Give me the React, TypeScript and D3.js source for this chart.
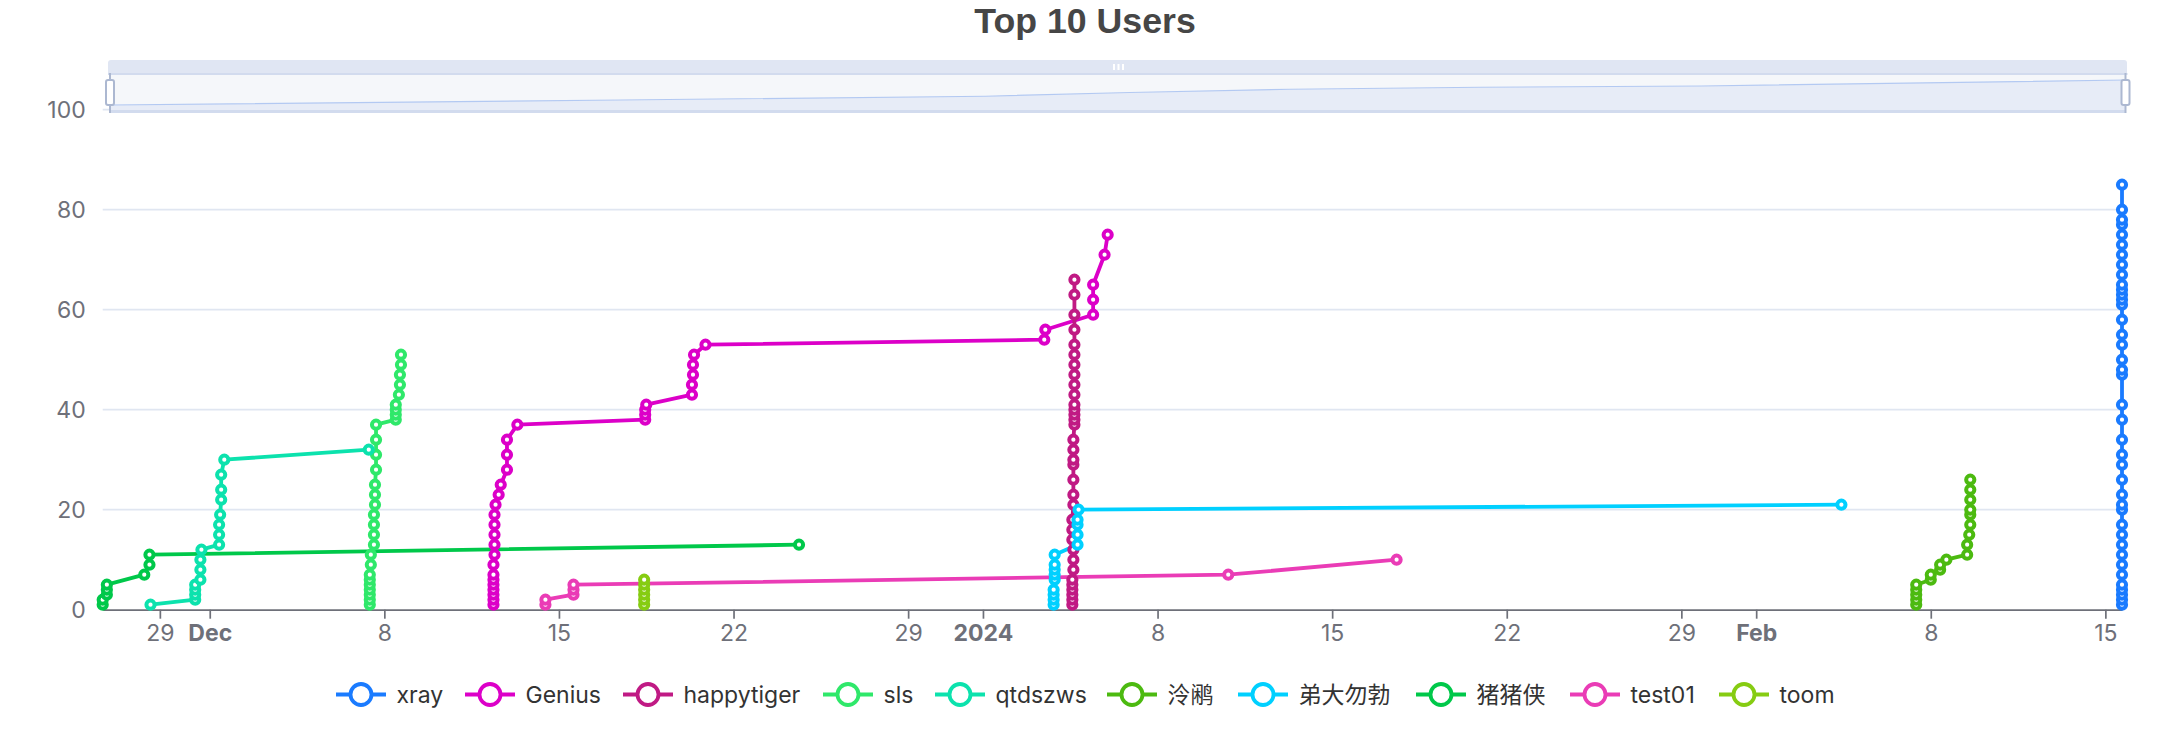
import React, { useEffect, useRef } from 'react';
import * as d3 from 'd3';

type Point = [string, number];

const xrayPoints: Point[] = [
    ['2024-02-15 16', 1], ['2024-02-15 16', 2], ['2024-02-15 16', 3], ['2024-02-15 16', 4], ['2024-02-15 16', 5],
    ['2024-02-15 16', 7], ['2024-02-15 16', 9], ['2024-02-15 16', 11], ['2024-02-15 16', 13], ['2024-02-15 16', 15],
    ['2024-02-15 16', 17], ['2024-02-15 16', 20], ['2024-02-15 16', 21], ['2024-02-15 16', 23], ['2024-02-15 16', 26],
    ['2024-02-15 16', 29], ['2024-02-15 16', 31], ['2024-02-15 16', 34], ['2024-02-15 16', 38], ['2024-02-15 16', 41],
    ['2024-02-15 16', 47], ['2024-02-15 16', 48], ['2024-02-15 16', 50], ['2024-02-15 16', 53], ['2024-02-15 16', 55],
    ['2024-02-15 16', 58], ['2024-02-15 16', 61], ['2024-02-15 16', 62], ['2024-02-15 16', 63], ['2024-02-15 16', 64],
    ['2024-02-15 16', 65], ['2024-02-15 16', 67], ['2024-02-15 16', 69], ['2024-02-15 16', 71], ['2024-02-15 16', 73],
    ['2024-02-15 16', 75], ['2024-02-15 16', 77], ['2024-02-15 16', 78], ['2024-02-15 16', 80], ['2024-02-15 16', 85],
];

const geniusPoints: Point[] = [
    ['2023-12-12 09', 1], ['2023-12-12 09', 2], ['2023-12-12 09', 3], ['2023-12-12 09', 4], ['2023-12-12 09', 5],
    ['2023-12-12 09', 6], ['2023-12-12 09', 7], ['2023-12-12 09', 9], ['2023-12-12 10', 11], ['2023-12-12 10', 13],
    ['2023-12-12 10', 15], ['2023-12-12 10', 17], ['2023-12-12 10', 19], ['2023-12-12 11', 21], ['2023-12-12 14', 23],
    ['2023-12-12 16', 25], ['2023-12-12 22', 28], ['2023-12-12 22', 31], ['2023-12-12 22', 34], ['2023-12-13 08', 37],
    ['2023-12-18 11', 38], ['2023-12-18 11', 39], ['2023-12-18 11', 40], ['2023-12-18 12', 41], ['2023-12-20 08', 43],
    ['2023-12-20 08', 45], ['2023-12-20 09', 47], ['2023-12-20 09', 49], ['2023-12-20 10', 51], ['2023-12-20 21', 53],
    ['2024-01-03 11', 54], ['2024-01-03 12', 56], ['2024-01-05 10', 59], ['2024-01-05 10', 62], ['2024-01-05 10', 65],
    ['2024-01-05 21', 71], ['2024-01-06 00', 75],
];

const happytigerPoints: Point[] = [
    ['2024-01-04 14', 1], ['2024-01-04 14', 2], ['2024-01-04 14', 3], ['2024-01-04 14', 4], ['2024-01-04 14', 5],
    ['2024-01-04 14', 6], ['2024-01-04 15', 8], ['2024-01-04 15', 10], ['2024-01-04 15', 12], ['2024-01-04 14', 14],
    ['2024-01-04 14', 16], ['2024-01-04 14', 18], ['2024-01-04 15', 21], ['2024-01-04 15', 23], ['2024-01-04 15', 26],
    ['2024-01-04 15', 29], ['2024-01-04 15', 30], ['2024-01-04 15', 32], ['2024-01-04 15', 34], ['2024-01-04 16', 37],
    ['2024-01-04 16', 38], ['2024-01-04 16', 39], ['2024-01-04 16', 40], ['2024-01-04 16', 41], ['2024-01-04 16', 43],
    ['2024-01-04 16', 45], ['2024-01-04 16', 47], ['2024-01-04 16', 49], ['2024-01-04 16', 51], ['2024-01-04 16', 53],
    ['2024-01-04 16', 56], ['2024-01-04 16', 59], ['2024-01-04 16', 63], ['2024-01-04 16', 66],
];

const slsPoints: Point[] = [
    ['2023-12-07 10', 1], ['2023-12-07 10', 2], ['2023-12-07 10', 3], ['2023-12-07 10', 4], ['2023-12-07 10', 5],
    ['2023-12-07 10', 6], ['2023-12-07 10', 7], ['2023-12-07 11', 9], ['2023-12-07 11', 11], ['2023-12-07 14', 13],
    ['2023-12-07 14', 15], ['2023-12-07 14', 17], ['2023-12-07 14', 19], ['2023-12-07 15', 21], ['2023-12-07 15', 23],
    ['2023-12-07 15', 25], ['2023-12-07 16', 28], ['2023-12-07 16', 31], ['2023-12-07 16', 34], ['2023-12-07 16', 37],
    ['2023-12-08 11', 38], ['2023-12-08 11', 39], ['2023-12-08 11', 40], ['2023-12-08 11', 41], ['2023-12-08 14', 43],
    ['2023-12-08 15', 45], ['2023-12-08 15', 47], ['2023-12-08 16', 49], ['2023-12-08 16', 51],
];

const qtdszwsPoints: Point[] = [
    ['2023-11-28 15', 1], ['2023-11-30 10', 2], ['2023-11-30 10', 3], ['2023-11-30 10', 4], ['2023-11-30 10', 5],
    ['2023-11-30 15', 6], ['2023-11-30 15', 8], ['2023-11-30 15', 10], ['2023-11-30 16', 12], ['2023-12-01 09', 13],
    ['2023-12-01 09', 15], ['2023-12-01 09', 17], ['2023-12-01 10', 19], ['2023-12-01 11', 22], ['2023-12-01 11', 24],
    ['2023-12-01 11', 27], ['2023-12-01 14', 30], ['2023-12-07 09', 32],
];

const lingjianPoints: Point[] = [
    ['2024-02-07 10', 1], ['2024-02-07 10', 2], ['2024-02-07 10', 3], ['2024-02-07 10', 4], ['2024-02-07 10', 5],
    ['2024-02-08 00', 6], ['2024-02-08 00', 7], ['2024-02-08 09', 8], ['2024-02-08 09', 9], ['2024-02-08 15', 10],
    ['2024-02-09 11', 11], ['2024-02-09 11', 13], ['2024-02-09 13', 15], ['2024-02-09 14', 17], ['2024-02-09 14', 19],
    ['2024-02-09 14', 20], ['2024-02-09 14', 22], ['2024-02-09 14', 24], ['2024-02-09 14', 26],
];

const didaPoints: Point[] = [
    ['2024-01-03 20', 1], ['2024-01-03 20', 2], ['2024-01-03 20', 3], ['2024-01-03 20', 4], ['2024-01-03 21', 6],
    ['2024-01-03 21', 7], ['2024-01-03 21', 8], ['2024-01-03 21', 9], ['2024-01-03 21', 11], ['2024-01-04 19', 13],
    ['2024-01-04 19', 15], ['2024-01-04 19', 17], ['2024-01-04 19', 18], ['2024-01-04 20', 20], ['2024-02-04 10', 21],
];

const zhuzhuxiaPoints: Point[] = [
    ['2023-11-26 17', 1], ['2023-11-26 17', 2], ['2023-11-26 21', 3], ['2023-11-26 21', 4], ['2023-11-26 21', 5],
    ['2023-11-28 09', 7], ['2023-11-28 14', 9], ['2023-11-28 14', 11], ['2023-12-24 15', 13],
];

const test01Points: Point[] = [
    ['2023-12-14 11', 1], ['2023-12-14 11', 2], ['2023-12-15 14', 3], ['2023-12-15 14', 4], ['2023-12-15 14', 5],
    ['2024-01-10 20', 7], ['2024-01-17 14', 10],
];

const toomPoints: Point[] = [
    ['2023-12-18 10', 1], ['2023-12-18 10', 2], ['2023-12-18 10', 3], ['2023-12-18 10', 4], ['2023-12-18 10', 5],
    ['2023-12-18 10', 6],
];

const seriesNames = ['xray', 'Genius', 'happytiger', 'sls', 'qtdszws', '泠鹇', '弟大勿勃', '猪猪侠', 'test01', 'toom'];
const seriesColors = ['#1a7bff', '#dc00c8', '#c01a84', '#2fe86a', '#0ce2ad', '#4cba10', '#00d0ff', '#00c84a', '#ea3cb6', '#86cc12'];
const seriesPoints = [xrayPoints, geniusPoints, happytigerPoints, slsPoints, qtdszwsPoints, lingjianPoints, didaPoints, zhuzhuxiaPoints, test01Points, toomPoints];

const yTicks = [0, 20, 40, 60, 80, 100];
const xTicks = ['2023-11-29 00', '2023-12-01 00', '2023-12-08 00', '2023-12-15 00', '2023-12-22 00', '2023-12-29 00', '2024-01-01 00', '2024-01-08 00', '2024-01-15 00', '2024-01-22 00', '2024-01-29 00', '2024-02-01 00', '2024-02-08 00', '2024-02-15 00'];
const xTickLabels = ['29', 'Dec', '8', '15', '22', '29', '2024', '8', '15', '22', '29', 'Feb', '8', '15'];
const boldTicks = ['Dec', '2024', 'Feb'];

// the slider's little overview line
const previewDates = ['2023-11-26 17', '2023-12-17 05', '2023-12-31 21', '2024-01-06 16', '2024-01-13 03', '2024-01-20 18', '2024-01-29 15', '2024-02-15 16'];
const previewValues = [0, 20, 35, 50, 63, 71, 76, 100];

const legendX = [336, 465, 623, 823, 935, 1107, 1238, 1416, 1570, 1719];

const FONT = "Inter, 'Noto Sans CJK SC', sans-serif";
const parseTime = d3.utcParse('%Y-%m-%d %H');

const App: React.FC = () => {
    const svgRef = useRef<SVGSVGElement | null>(null);

    useEffect(() => {
        if (!svgRef.current) return;

        const svg = d3.select(svgRef.current);
        svg.selectAll('*').remove();

        const left = 102.7;
        const right = 2122;
        const bottom = 609.7;
        const top = 109.7;

        const allDates = seriesPoints.flat().map((d) => parseTime(d[0]) as Date);
        const domain = d3.extent(allDates) as [Date, Date];

        const xScale = d3.scaleUtc().domain(domain).range([left, right]);
        const yScale = d3.scaleLinear().domain([0, 100]).range([bottom, top]);

        // Title
        svg.append('text')
            .attr('x', 1085)
            .attr('y', 32.5)
            .attr('text-anchor', 'middle')
            .attr('font-family', "'Liberation Sans', sans-serif")
            .attr('font-size', 35.7)
            .attr('font-weight', 700)
            .attr('fill', '#464646')
            .text('Top 10 Users');

        // Grid lines
        svg.append('g')
            .selectAll('line')
            .data(yTicks.filter((d) => d > 0))
            .enter()
            .append('line')
            .attr('x1', left)
            .attr('x2', right)
            .attr('y1', (d) => yScale(d))
            .attr('y2', (d) => yScale(d))
            .attr('stroke', '#e0e6f1')
            .attr('stroke-width', 1.7);

        // Axes
        const yAxis = d3.axisLeft(yScale).tickValues(yTicks).tickSize(0).tickPadding(17);
        const yGroup = svg.append('g').attr('transform', `translate(${left}, 0)`).call(yAxis);
        yGroup.select('.domain').remove();
        yGroup.selectAll('text')
            .attr('font-family', FONT)
            .attr('font-size', 23)
            .attr('fill', '#6e7079');

        const xAxis = d3
            .axisBottom(xScale)
            .tickValues(xTicks.map((d) => parseTime(d) as Date))
            .tickFormat((_, i) => xTickLabels[i])
            .tickSize(9)
            .tickSizeOuter(0)
            .tickPadding(6);
        const xGroup = svg.append('g').attr('transform', `translate(0, ${bottom})`).call(xAxis);
        xGroup.select('.domain').attr('stroke', '#6e7079').attr('stroke-width', 1.7);
        xGroup.selectAll('.tick line').attr('stroke', '#6e7079').attr('stroke-width', 1.7);
        xGroup.selectAll('text')
            .attr('font-family', FONT)
            .attr('font-size', 23)
            .attr('fill', '#6e7079')
            .attr('font-weight', (_, i) => (boldTicks.includes(xTickLabels[i]) ? 700 : 400));

        // Data zoom slider
        const sliderLeft = 110;
        const sliderRight = 2125.5;
        const sliderTop = 60;
        const bodyTop = 75;
        const bodyBottom = 110;
        const previewX = d3.scaleUtc().domain(domain).range([sliderLeft, sliderRight]);
        const previewY = d3.scaleLinear().domain([0, 100]).range([105, 80]);
        const previewData = previewDates.map((d, i) => ({ date: parseTime(d) as Date, value: previewValues[i] }));

        const slider = svg.append('g');
        slider.append('rect')
            .attr('x', sliderLeft).attr('y', bodyTop)
            .attr('width', sliderRight - sliderLeft).attr('height', bodyBottom - bodyTop)
            .attr('fill', '#f5f7fa');
        const previewArea = d3.area<{ date: Date; value: number }>()
            .x((d) => previewX(d.date))
            .y0(bodyBottom)
            .y1((d) => previewY(d.value));
        const previewLine = d3.line<{ date: Date; value: number }>()
            .x((d) => previewX(d.date))
            .y((d) => previewY(d.value));
        slider.append('path').datum(previewData).attr('d', previewArea).attr('fill', '#e7ecf7');
        slider.append('path').datum(previewData).attr('d', previewLine).attr('fill', 'none').attr('stroke', '#b3c9f2').attr('stroke-width', 1.2);
        slider.append('path')
            .attr('d', `M${sliderLeft - 2},73V63a3,3 0 0 1 3,-3H${sliderRight - 1.5}a3,3 0 0 1 3,3V73Z`)
            .attr('fill', '#e0e6f3');
        slider.append('rect').attr('x', sliderLeft - 2).attr('y', 73).attr('width', sliderRight - sliderLeft + 4).attr('height', 2).attr('fill', '#d2dbee');
        slider.append('rect').attr('x', sliderLeft).attr('y', bodyBottom).attr('width', sliderRight - sliderLeft).attr('height', 3).attr('fill', '#d2dbee');

        [1113, 1117.5, 1122].forEach((gx) => {
            slider.append('rect').attr('x', gx).attr('y', sliderTop + 4).attr('width', 2).attr('height', 6).attr('fill', '#ffffff');
        });

        [sliderLeft, sliderRight].forEach((hx) => {
            slider.append('line').attr('x1', hx).attr('x2', hx).attr('y1', 73).attr('y2', 113).attr('stroke', '#acb8d1').attr('stroke-width', 2);
            slider.append('rect')
                .attr('x', hx - 4).attr('y', 80).attr('width', 8).attr('height', 25).attr('rx', 2)
                .attr('fill', '#ffffff').attr('stroke', '#acb8d1').attr('stroke-width', 2);
        });

        // Lines first, then every marker above them
        const line = d3.line<Point>()
            .x((d) => xScale(parseTime(d[0]) as Date))
            .y((d) => yScale(d[1]));

        seriesPoints.forEach((points, i) => {
            svg.append('path')
                .datum(points)
                .attr('fill', 'none')
                .attr('stroke', seriesColors[i])
                .attr('stroke-width', 3.8)
                .attr('stroke-linejoin', 'bevel')
                .attr('d', line);
        });

        seriesPoints.forEach((points, i) => {
            svg.append('g')
                .selectAll('circle')
                .data(points)
                .enter()
                .append('circle')
                .attr('cx', (d) => xScale(parseTime(d[0]) as Date))
                .attr('cy', (d) => yScale(d[1]))
                .attr('r', 4.1)
                .attr('fill', '#ffffff')
                .attr('stroke', seriesColors[i])
                .attr('stroke-width', 4);
        });

        // Legend
        const legend = svg.append('g').attr('transform', 'translate(0, 694.5)');
        seriesNames.forEach((name, i) => {
            const item = legend.append('g').attr('transform', `translate(${legendX[i]}, 0)`);
            item.append('line')
                .attr('x1', 0).attr('x2', 50)
                .attr('stroke', seriesColors[i])
                .attr('stroke-width', 3.8);
            item.append('circle')
                .attr('cx', 25)
                .attr('r', 10.5)
                .attr('fill', '#ffffff')
                .attr('stroke', seriesColors[i])
                .attr('stroke-width', 3.8);
            item.append('text')
                .attr('x', 60.5)
                .attr('dy', '0.35em')
                .attr('font-family', FONT)
                .attr('font-size', 23)
                .attr('fill', '#333333')
                .text(name);
        });
    }, []);

    return <svg ref={svgRef} width={2164} height={750} style={{ position: 'absolute', left: 0, top: 0 }} />;
};

export default App;
